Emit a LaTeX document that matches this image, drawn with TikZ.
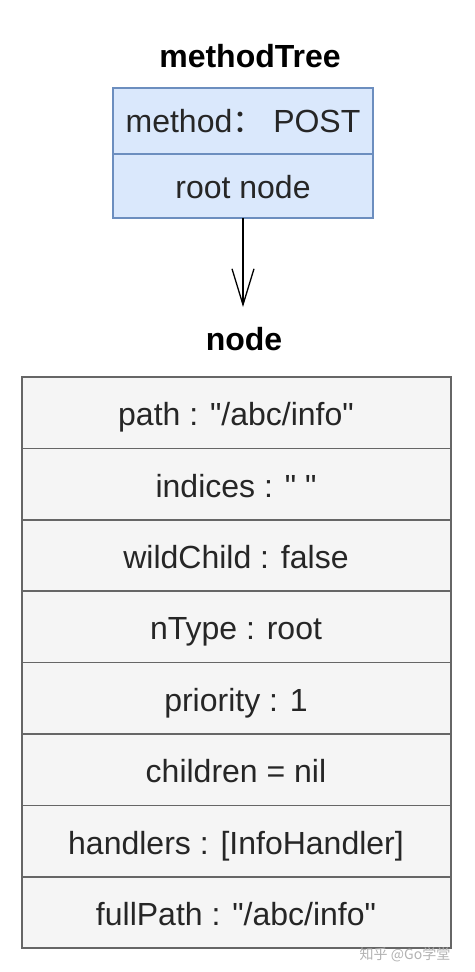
\documentclass[tikz,border=0pt]{standalone}
\usepackage{fontspec}
\setmainfont{Liberation Sans}[Ligatures=TeXOff]
\newfontfamily\cjk{Noto Sans CJK SC}
\usetikzlibrary{arrows.meta}
\definecolor{blueFill}{HTML}{DAE8FC}
\definecolor{blueLine}{HTML}{6C8EBF}
\definecolor{grayFill}{HTML}{F5F5F5}
\definecolor{grayLine}{HTML}{666666}
\begin{document}
\begin{tikzpicture}[x=1pt,y=-1pt,
  txt/.style={font=\fontsize{32}{36}\selectfont, text=black!85, anchor=base, inner sep=0pt},
  ttl/.style={font=\fontsize{32}{36}\selectfont\bfseries, anchor=base, inner sep=0pt},
  topcell/.style={draw=blueLine, fill=blueFill, line width=1.5pt},
  nodecell/.style={draw=grayLine, fill=grayFill, line width=1.5pt},
  conn/.style={draw=black, line width=1.3pt, -{Straight Barb[length=36pt,width=22pt,line width=1.3pt]}}]
\useasboundingbox (0,0) rectangle (474,972);
\fill[white] (0,0) rectangle (474,972);
% methodTree
\node[ttl] (mtTitle) at (250,67) {methodTree};
\draw[topcell] (113,88) rectangle (373,154);
\draw[topcell] (113,154) rectangle (373,218);
\node[txt] (mtMethod) at (243,132) {method{\cjk ：} POST};
\node[txt] (mtRoot) at (243,198) {root node};
\coordinate (mtBottom) at (243,218);
% node
\node[ttl] (ndTitle) at (244,350) {node};
\coordinate (ndTop) at (243,307);
\draw[conn] (mtBottom) -- (ndTop);
\foreach \i/\t in {0/{path : "/abc/info"},1/{indices : " "},2/{wildChild : false},3/{nType : root},4/{priority : 1},5/{children = nil},6/{handlers : [InfoHandler]},7/{fullPath : "/abc/info"}}{
  \pgfmathsetmacro{\ya}{377+71.4*\i}
  \pgfmathsetmacro{\yb}{377+71.4*(\i+1)}
  \pgfmathsetmacro{\ym}{377+71.4*(\i+0.5)+13}
  \draw[nodecell] (22,\ya) rectangle (451,\yb);
  \node[txt] (row\i) at (236,\ym) {\t};
}
\node[font=\cjk\fontsize{14}{16}\selectfont, text=black!30, anchor=center] (wm) at (405,955) {知乎 @Go学堂};
\end{tikzpicture}
\end{document}
